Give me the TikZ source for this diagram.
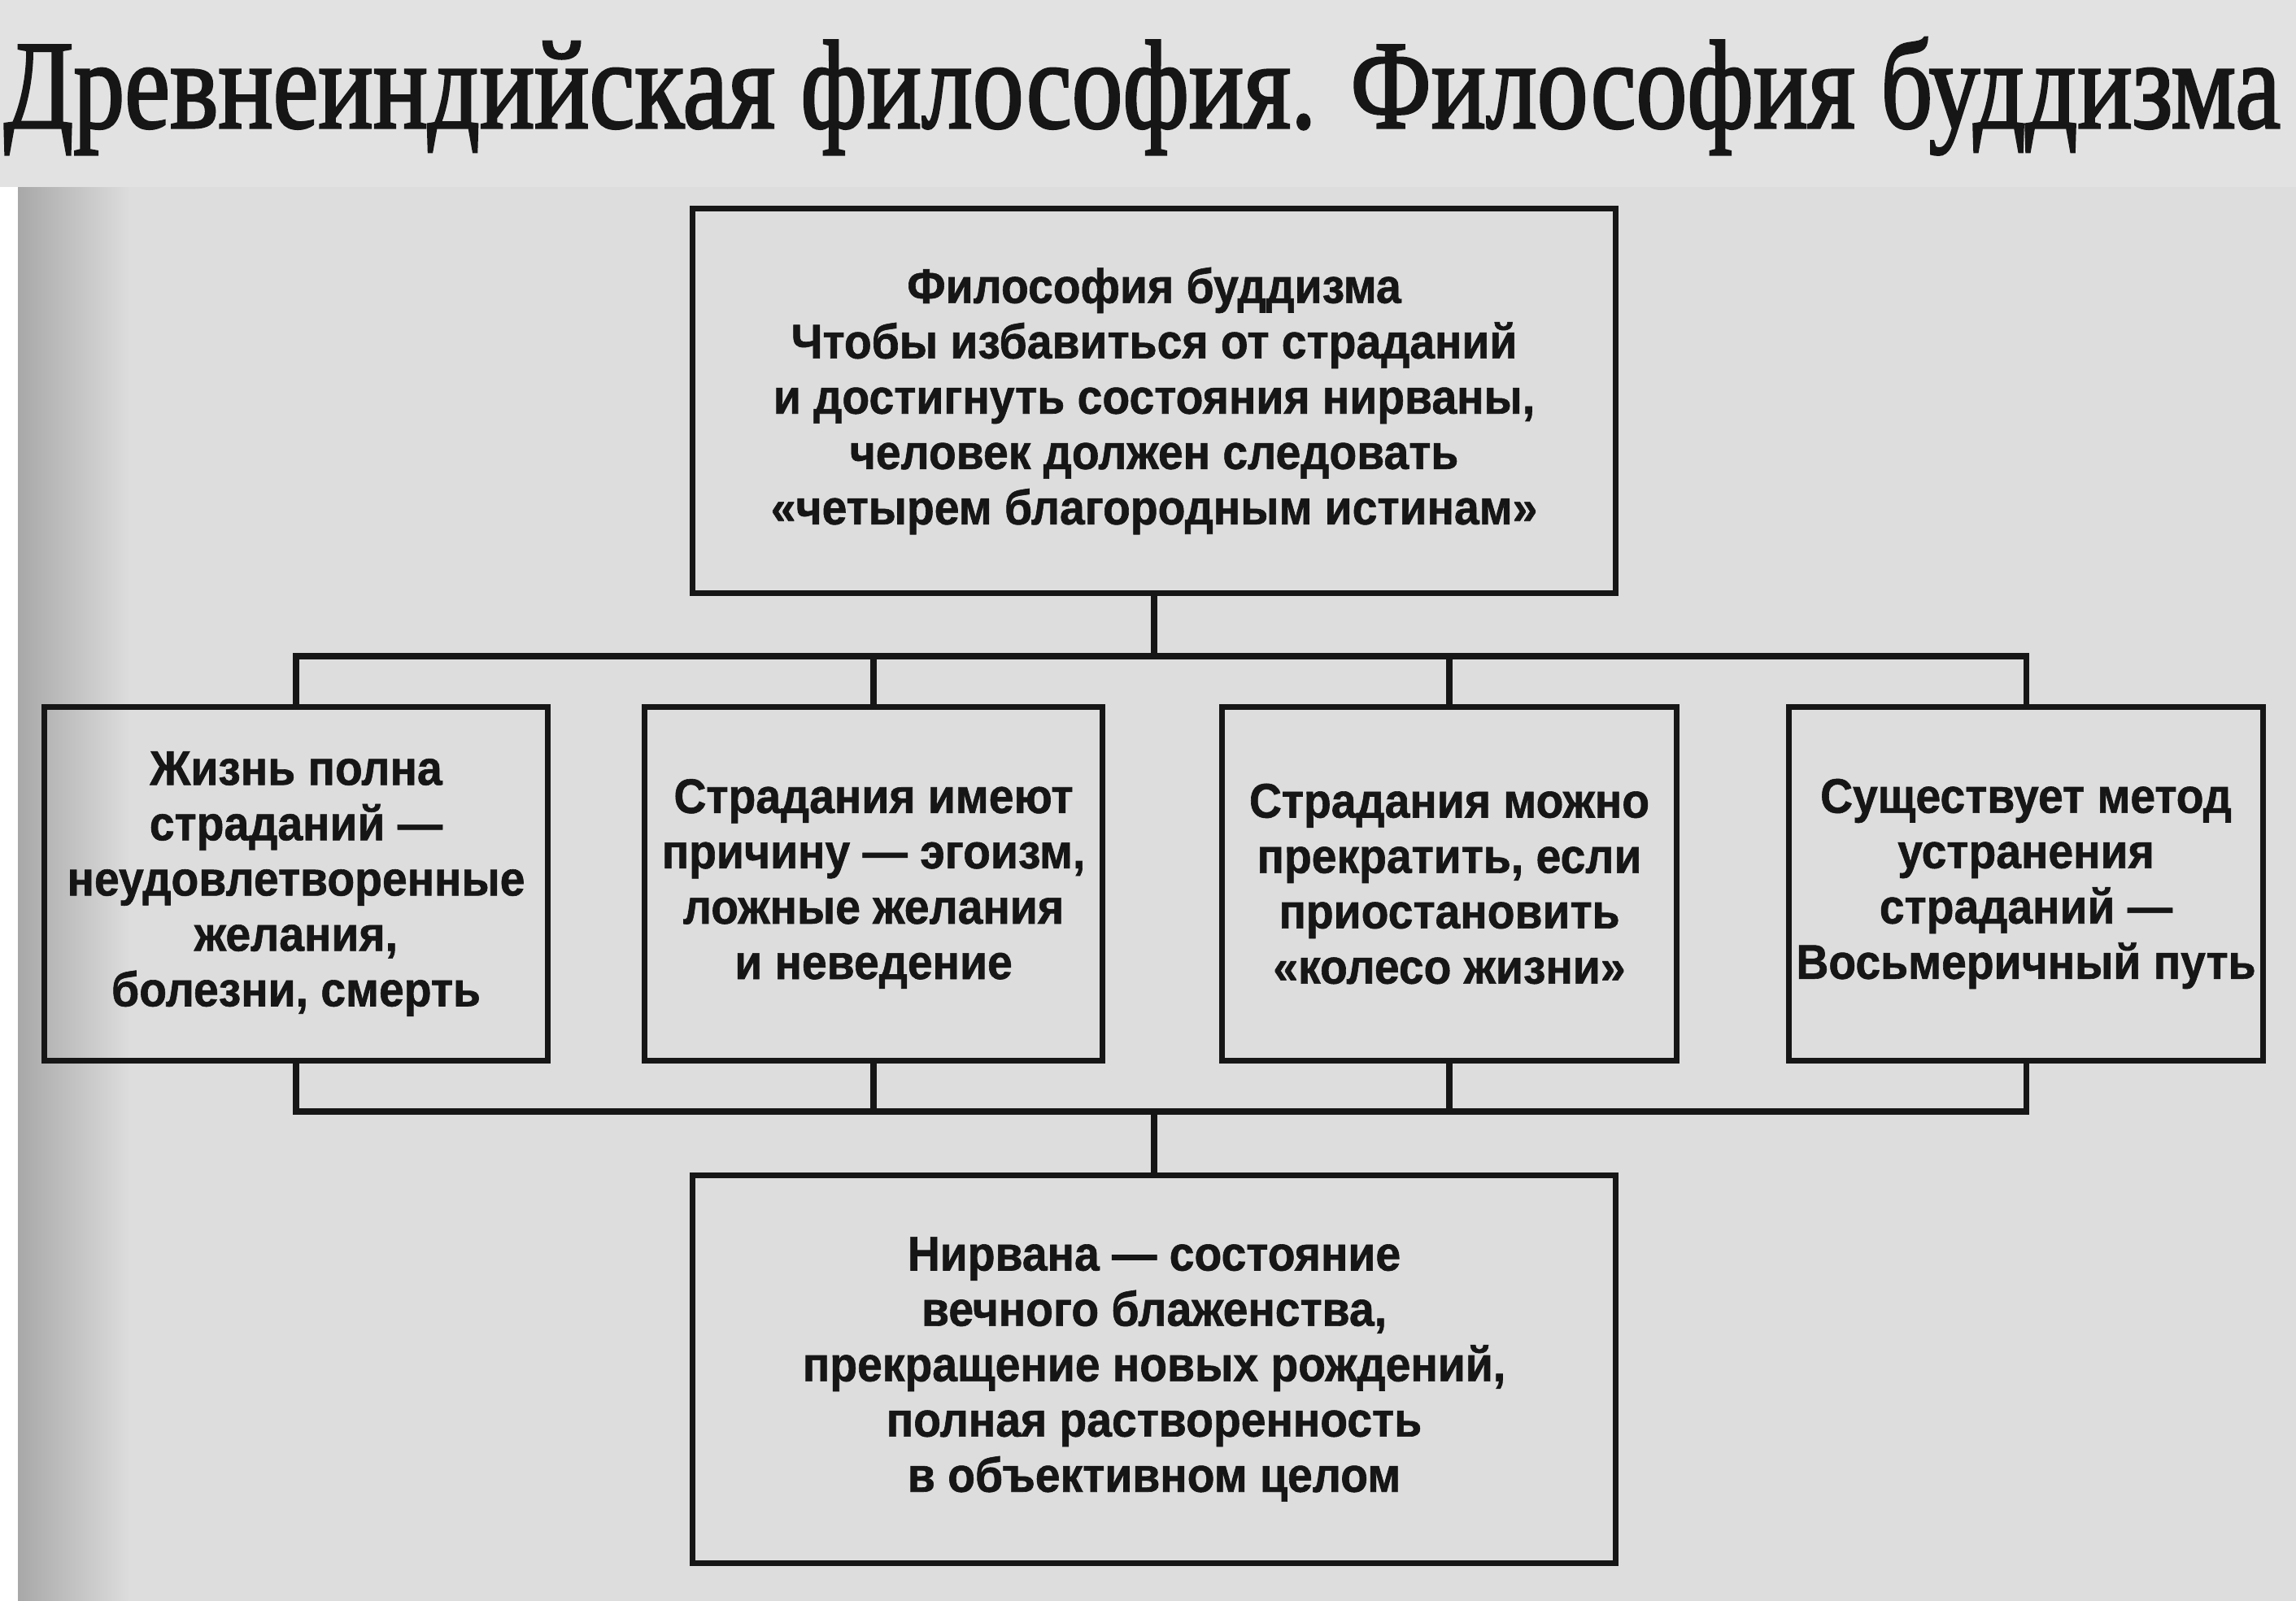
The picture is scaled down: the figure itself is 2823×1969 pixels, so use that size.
\documentclass[tikz,border=0pt]{standalone}
\usepackage{fontspec}
\setmainfont{Liberation Serif}
\setsansfont[FakeStretch=0.925, BoldFeatures={FakeBold=1}]{Liberation Sans}
\newfontfamily\titlefont[FakeBold=2]{Liberation Serif}
\definecolor{bgc}{HTML}{DDDDDD}
\definecolor{bandc}{HTML}{E2E2E2}
\definecolor{edgec}{HTML}{A8A8A8}
\definecolor{ink}{HTML}{161616}
\begin{document}
\begin{tikzpicture}[x=0.01cm,y=-0.01cm,
  boxst/.style={draw=ink, line width=2pt, align=center, inner sep=0pt,
    font=\sffamily\bfseries\fontsize{17}{19.35}\selectfont, text=ink},
  link/.style={draw=ink, line width=2pt}]
\useasboundingbox (0,0) rectangle (2823,1969);
\fill[bgc] (0,0) rectangle (2823,1969);
\fill[bandc] (0,0) rectangle (2823,230);
\fill[white] (0,230) rectangle (22,1969);
\shade[left color=edgec, right color=bgc] (22,230) rectangle (160,1969);

\node[anchor=base west, inner sep=0pt, text=ink] (title) at (4,157)
  {\resizebox{796pt}{\height}{\titlefont\fontsize{44}{48}\selectfont Древнеиндийская философия. Философия буддизма}};

\node[boxst, minimum width=11.34cm, minimum height=4.72cm] (top) at (1419,493)
  {Философия буддизма\\Чтобы избавиться от страданий\\и достигнуть состояния нирваны,\\человек должен следовать\\«четырем благородным истинам»};

\node[boxst, minimum width=6.19cm, minimum height=4.35cm] (b1) at (364,1087)
  {Жизнь полна\\страданий —\\неудовлетворенные\\желания,\\болезни, смерть};
\node[boxst, minimum width=5.62cm, minimum height=4.35cm] (b2) at (1074,1087)
  {Страдания имеют\\причину — эгоизм,\\ложные желания\\и неведение};
\node[boxst, minimum width=5.59cm, minimum height=4.35cm] (b3) at (1782,1087)
  {Страдания можно\\прекратить, если\\приостановить\\«колесо жизни»};
\node[boxst, minimum width=5.82cm, minimum height=4.35cm] (b4) at (2491,1087)
  {Существует метод\\устранения\\страданий —\\Восьмеричный путь};

\node[boxst, minimum width=11.34cm, minimum height=4.77cm] (bot) at (1419,1684)
  {Нирвана — состояние\\вечного блаженства,\\прекращение новых рождений,\\полная растворенность\\в объективном целом};

\coordinate (hl) at (0,807);
\coordinate (hb) at (0,1367);

\draw[link] (top.south) -- (top.south |- hl);
\draw[link] (b1.north) -- (b1.north |- hl) -- (b4.north |- hl) -- (b4.north);
\draw[link] (b2.north) -- (b2.north |- hl);
\draw[link] (b3.north) -- (b3.north |- hl);

\draw[link] (b1.south) -- (b1.south |- hb) -- (b4.south |- hb) -- (b4.south);
\draw[link] (b2.south) -- (b2.south |- hb);
\draw[link] (b3.south) -- (b3.south |- hb);
\draw[link] (bot.north) -- (bot.north |- hb);
\end{tikzpicture}
\end{document}
